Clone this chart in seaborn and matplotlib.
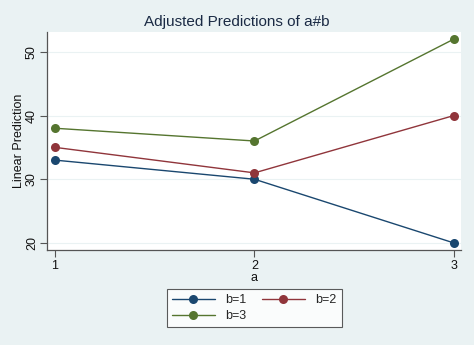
import matplotlib
matplotlib.use("Agg")
import matplotlib.pyplot as plt
import seaborn as sns
import pandas as pd

a_levels = [1, 2, 3]
b1 = [33, 30, 20]
b2 = [35, 31, 40]
b3 = [38, 36, 52]
series_names = ["b=1", "b=2", "b=3"]
colors = ["#1A476F", "#90353B", "#55752F"]
yticks = [20, 30, 40, 50]

df = pd.DataFrame({
    "a": a_levels * 3,
    "pred": b1 + b2 + b3,
    "b": [series_names[0]] * 3 + [series_names[1]] * 3 + [series_names[2]] * 3,
})

sns.set_theme(style="white")
plt.rcParams["font.family"] = ["Liberation Sans", "DejaVu Sans"]

bg = "#EAF2F3"
fig = plt.figure(figsize=(4.74, 3.45), dpi=100, facecolor=bg)
ax = fig.add_axes([47 / 474, 1 - 250 / 345, (461 - 47) / 474, (250 - 32) / 345])
ax.set_facecolor("white")

sns.lineplot(data=df, x="a", y="pred", hue="b", palette=colors, marker="o",
             markersize=6.5, markeredgewidth=0, linewidth=1.0, ax=ax, legend=True)

ax.set_xlim(0.96, 3.035)
ax.set_ylim(18.9, 53.1)
ax.set_xticks(a_levels)
ax.set_xticklabels([str(v) for v in a_levels])
ax.set_yticks(yticks)
ax.set_yticklabels([str(v) for v in yticks], rotation=90, va="center")
ax.grid(axis="y", color="#EAF2F3", linewidth=0.8)
ax.grid(axis="x", visible=False)
for s in ["top", "right"]:
    ax.spines[s].set_visible(False)
for s in ["left", "bottom"]:
    ax.spines[s].set_color("#555555")
    ax.spines[s].set_linewidth(0.9)
ax.tick_params(axis="both", which="major", length=5, width=0.8, color="#555555",
               labelsize=9, labelcolor="#111111", pad=2, direction="out")
ax.tick_params(axis="x", bottom=True)
ax.tick_params(axis="y", left=True, pad=1.5)

ax.set_xlabel("a", fontsize=9, labelpad=0, color="#111111")
ax.set_ylabel("Linear Prediction", fontsize=9, color="#111111")
ax.yaxis.set_label_coords(-0.052, 0.5)
fig.text(0.5, 1 - 22 / 345, "Adjusted Predictions of a#b", ha="center", va="center",
         fontsize=11, color="#1A2A44")

handles, labels = ax.get_legend_handles_labels()
order = [0, 2, 1]
ax.legend([handles[i] for i in order], [labels[i] for i in order], ncol=2,
          loc="center", bbox_to_anchor=(0.5, (250 - 308) / 218),
          frameon=True, fancybox=False, edgecolor="#333333", facecolor="white",
          fontsize=9, handlelength=3.5, columnspacing=1.2, handletextpad=0.8,
          borderpad=0.4, labelspacing=0.3)
ax.get_legend().get_frame().set_linewidth(0.8)

fig.savefig("out.png", dpi=100, facecolor=bg)
